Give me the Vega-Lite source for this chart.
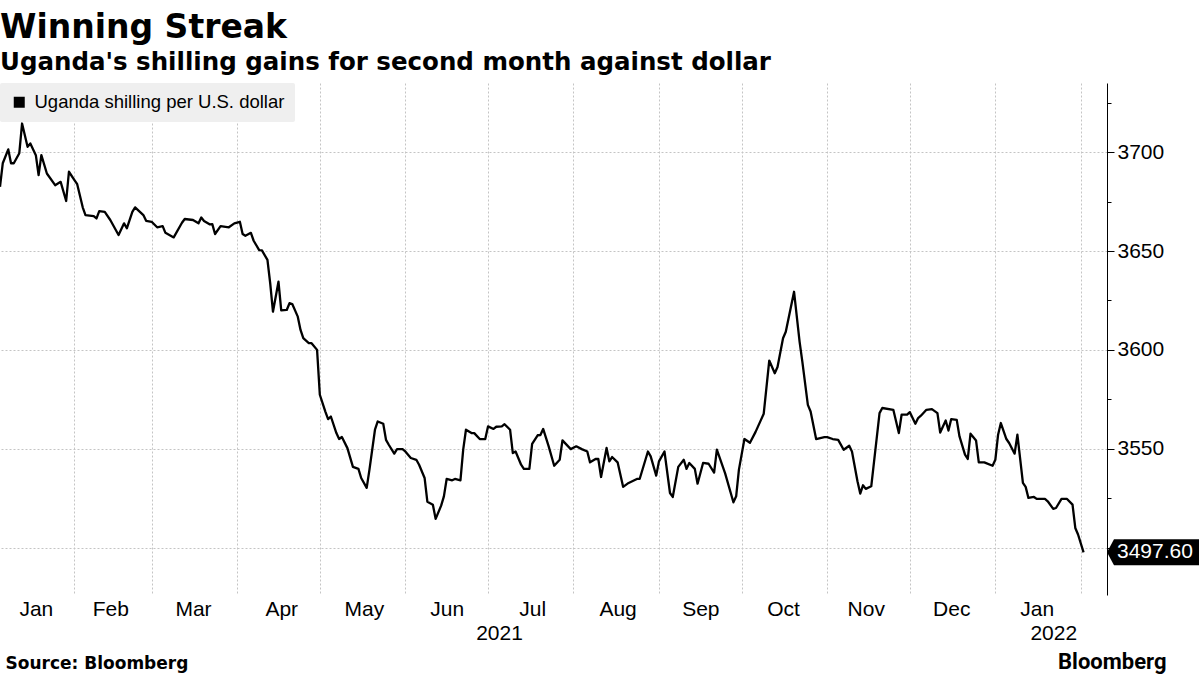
{
  "$schema": "https://vega.github.io/schema/vega-lite/v6.json",
  "width": 1107,
  "height": 512,
  "autosize": {"type": "none"},
  "padding": {"left": 0, "top": 83, "right": 93, "bottom": 80},
  "background": "#ffffff",
  "title": {
    "text": "Winning Streak",
    "subtitle": "Uganda's shilling gains for second month against dollar",
    "anchor": "start",
    "frame": "group",
    "font": "DejaVu Sans",
    "fontSize": 33,
    "fontWeight": "bold",
    "color": "#000000",
    "subtitleFont": "DejaVu Sans",
    "subtitleFontSize": 24.5,
    "subtitleFontWeight": "bold",
    "subtitleColor": "#000000",
    "subtitlePadding": 6,
    "offset": 9
  },
  "datasets": {
    "fx": [
      {"date": "2021-01-05", "value": 3682.5},
      {"date": "2021-01-06", "value": 3694.4},
      {"date": "2021-01-08", "value": 3701.4},
      {"date": "2021-01-09", "value": 3694.4},
      {"date": "2021-01-10", "value": 3694.4},
      {"date": "2021-01-12", "value": 3699.5},
      {"date": "2021-01-13", "value": 3714.5},
      {"date": "2021-01-15", "value": 3702.7},
      {"date": "2021-01-16", "value": 3704.4},
      {"date": "2021-01-18", "value": 3698.5},
      {"date": "2021-01-19", "value": 3688.4},
      {"date": "2021-01-20", "value": 3698.5},
      {"date": "2021-01-22", "value": 3689.2},
      {"date": "2021-01-25", "value": 3683.3},
      {"date": "2021-01-27", "value": 3685.0},
      {"date": "2021-01-29", "value": 3675.3},
      {"date": "2021-01-30", "value": 3690.1},
      {"date": "2021-02-01", "value": 3685.9},
      {"date": "2021-02-02", "value": 3683.8},
      {"date": "2021-02-04", "value": 3672.1},
      {"date": "2021-02-05", "value": 3668.2},
      {"date": "2021-02-08", "value": 3667.7},
      {"date": "2021-02-09", "value": 3666.5},
      {"date": "2021-02-10", "value": 3670.2},
      {"date": "2021-02-12", "value": 3669.8},
      {"date": "2021-02-14", "value": 3665.7},
      {"date": "2021-02-17", "value": 3658.1},
      {"date": "2021-02-19", "value": 3664.0},
      {"date": "2021-02-20", "value": 3661.5},
      {"date": "2021-02-22", "value": 3669.8},
      {"date": "2021-02-23", "value": 3672.1},
      {"date": "2021-02-26", "value": 3668.2},
      {"date": "2021-02-27", "value": 3665.3},
      {"date": "2021-03-01", "value": 3664.8},
      {"date": "2021-03-03", "value": 3662.0},
      {"date": "2021-03-05", "value": 3662.6},
      {"date": "2021-03-06", "value": 3659.2},
      {"date": "2021-03-09", "value": 3656.9},
      {"date": "2021-03-12", "value": 3664.3},
      {"date": "2021-03-13", "value": 3666.2},
      {"date": "2021-03-16", "value": 3665.7},
      {"date": "2021-03-18", "value": 3664.0},
      {"date": "2021-03-19", "value": 3667.0},
      {"date": "2021-03-20", "value": 3665.2},
      {"date": "2021-03-22", "value": 3663.5},
      {"date": "2021-03-23", "value": 3663.6},
      {"date": "2021-03-24", "value": 3658.6},
      {"date": "2021-03-26", "value": 3662.6},
      {"date": "2021-03-29", "value": 3662.0},
      {"date": "2021-03-31", "value": 3664.0},
      {"date": "2021-04-02", "value": 3664.8},
      {"date": "2021-04-03", "value": 3658.6},
      {"date": "2021-04-04", "value": 3657.7},
      {"date": "2021-04-06", "value": 3659.2},
      {"date": "2021-04-07", "value": 3655.2},
      {"date": "2021-04-09", "value": 3650.5},
      {"date": "2021-04-10", "value": 3650.3},
      {"date": "2021-04-12", "value": 3645.5},
      {"date": "2021-04-13", "value": 3633.7},
      {"date": "2021-04-14", "value": 3619.3},
      {"date": "2021-04-16", "value": 3634.5},
      {"date": "2021-04-17", "value": 3620.0},
      {"date": "2021-04-19", "value": 3620.2},
      {"date": "2021-04-20", "value": 3623.6},
      {"date": "2021-04-21", "value": 3623.2},
      {"date": "2021-04-23", "value": 3616.8},
      {"date": "2021-04-24", "value": 3610.1},
      {"date": "2021-04-25", "value": 3605.9},
      {"date": "2021-04-27", "value": 3603.4},
      {"date": "2021-04-28", "value": 3603.4},
      {"date": "2021-04-30", "value": 3600.0},
      {"date": "2021-05-01", "value": 3577.3},
      {"date": "2021-05-03", "value": 3568.8},
      {"date": "2021-05-04", "value": 3565.0},
      {"date": "2021-05-05", "value": 3566.3},
      {"date": "2021-05-07", "value": 3557.9},
      {"date": "2021-05-08", "value": 3554.9},
      {"date": "2021-05-09", "value": 3555.9},
      {"date": "2021-05-11", "value": 3550.3},
      {"date": "2021-05-13", "value": 3540.8},
      {"date": "2021-05-15", "value": 3539.8},
      {"date": "2021-05-16", "value": 3535.2},
      {"date": "2021-05-18", "value": 3530.2},
      {"date": "2021-05-19", "value": 3539.4},
      {"date": "2021-05-21", "value": 3559.6},
      {"date": "2021-05-22", "value": 3563.8},
      {"date": "2021-05-24", "value": 3562.6},
      {"date": "2021-05-25", "value": 3554.5},
      {"date": "2021-05-26", "value": 3552.0},
      {"date": "2021-05-28", "value": 3547.5},
      {"date": "2021-05-29", "value": 3549.8},
      {"date": "2021-05-31", "value": 3549.8},
      {"date": "2021-06-01", "value": 3548.6},
      {"date": "2021-06-03", "value": 3545.3},
      {"date": "2021-06-05", "value": 3544.4},
      {"date": "2021-06-06", "value": 3541.9},
      {"date": "2021-06-08", "value": 3535.2},
      {"date": "2021-06-09", "value": 3523.2},
      {"date": "2021-06-11", "value": 3521.7},
      {"date": "2021-06-12", "value": 3514.5},
      {"date": "2021-06-14", "value": 3521.2},
      {"date": "2021-06-15", "value": 3525.9},
      {"date": "2021-06-16", "value": 3534.7},
      {"date": "2021-06-18", "value": 3534.0},
      {"date": "2021-06-19", "value": 3534.7},
      {"date": "2021-06-21", "value": 3534.0},
      {"date": "2021-06-22", "value": 3549.5},
      {"date": "2021-06-23", "value": 3559.6},
      {"date": "2021-06-25", "value": 3557.9},
      {"date": "2021-06-26", "value": 3557.9},
      {"date": "2021-06-28", "value": 3554.9},
      {"date": "2021-06-30", "value": 3554.9},
      {"date": "2021-07-01", "value": 3561.3},
      {"date": "2021-07-03", "value": 3560.0},
      {"date": "2021-07-04", "value": 3561.1},
      {"date": "2021-07-06", "value": 3561.3},
      {"date": "2021-07-07", "value": 3562.4},
      {"date": "2021-07-09", "value": 3559.6},
      {"date": "2021-07-10", "value": 3547.8},
      {"date": "2021-07-11", "value": 3548.6},
      {"date": "2021-07-13", "value": 3541.9},
      {"date": "2021-07-14", "value": 3539.8},
      {"date": "2021-07-16", "value": 3539.8},
      {"date": "2021-07-17", "value": 3552.5},
      {"date": "2021-07-19", "value": 3556.8},
      {"date": "2021-07-20", "value": 3556.9},
      {"date": "2021-07-21", "value": 3560.0},
      {"date": "2021-07-23", "value": 3551.2},
      {"date": "2021-07-25", "value": 3541.4},
      {"date": "2021-07-27", "value": 3544.4},
      {"date": "2021-07-28", "value": 3554.2},
      {"date": "2021-07-31", "value": 3549.8},
      {"date": "2021-08-02", "value": 3551.2},
      {"date": "2021-08-04", "value": 3549.8},
      {"date": "2021-08-06", "value": 3548.6},
      {"date": "2021-08-07", "value": 3543.1},
      {"date": "2021-08-09", "value": 3544.8},
      {"date": "2021-08-10", "value": 3544.8},
      {"date": "2021-08-11", "value": 3535.7},
      {"date": "2021-08-13", "value": 3550.4},
      {"date": "2021-08-14", "value": 3543.6},
      {"date": "2021-08-15", "value": 3545.8},
      {"date": "2021-08-17", "value": 3543.1},
      {"date": "2021-08-19", "value": 3530.7},
      {"date": "2021-08-21", "value": 3532.7},
      {"date": "2021-08-24", "value": 3534.7},
      {"date": "2021-08-25", "value": 3534.7},
      {"date": "2021-08-28", "value": 3548.6},
      {"date": "2021-08-29", "value": 3546.1},
      {"date": "2021-08-31", "value": 3536.4},
      {"date": "2021-09-01", "value": 3543.6},
      {"date": "2021-09-03", "value": 3548.6},
      {"date": "2021-09-05", "value": 3527.6},
      {"date": "2021-09-06", "value": 3525.6},
      {"date": "2021-09-08", "value": 3540.8},
      {"date": "2021-09-10", "value": 3544.4},
      {"date": "2021-09-11", "value": 3539.8},
      {"date": "2021-09-12", "value": 3542.8},
      {"date": "2021-09-14", "value": 3539.8},
      {"date": "2021-09-15", "value": 3532.3},
      {"date": "2021-09-17", "value": 3542.8},
      {"date": "2021-09-19", "value": 3542.4},
      {"date": "2021-09-21", "value": 3537.9},
      {"date": "2021-09-22", "value": 3549.5},
      {"date": "2021-09-25", "value": 3537.5},
      {"date": "2021-09-28", "value": 3522.9},
      {"date": "2021-09-29", "value": 3525.9},
      {"date": "2021-09-30", "value": 3539.4},
      {"date": "2021-10-02", "value": 3554.9},
      {"date": "2021-10-04", "value": 3553.0},
      {"date": "2021-10-06", "value": 3558.4},
      {"date": "2021-10-08", "value": 3564.6},
      {"date": "2021-10-09", "value": 3567.7},
      {"date": "2021-10-11", "value": 3594.6},
      {"date": "2021-10-13", "value": 3588.2},
      {"date": "2021-10-14", "value": 3591.3},
      {"date": "2021-10-16", "value": 3605.9},
      {"date": "2021-10-17", "value": 3609.2},
      {"date": "2021-10-20", "value": 3629.4},
      {"date": "2021-10-22", "value": 3604.2},
      {"date": "2021-10-23", "value": 3594.1},
      {"date": "2021-10-25", "value": 3572.2},
      {"date": "2021-10-26", "value": 3568.8},
      {"date": "2021-10-28", "value": 3554.9},
      {"date": "2021-10-31", "value": 3555.9},
      {"date": "2021-11-01", "value": 3555.9},
      {"date": "2021-11-03", "value": 3554.9},
      {"date": "2021-11-05", "value": 3554.5},
      {"date": "2021-11-07", "value": 3549.5},
      {"date": "2021-11-09", "value": 3551.5},
      {"date": "2021-11-10", "value": 3548.6},
      {"date": "2021-11-12", "value": 3533.5},
      {"date": "2021-11-13", "value": 3527.3},
      {"date": "2021-11-14", "value": 3531.5},
      {"date": "2021-11-15", "value": 3529.7},
      {"date": "2021-11-17", "value": 3531.0},
      {"date": "2021-11-20", "value": 3568.0},
      {"date": "2021-11-21", "value": 3570.6},
      {"date": "2021-11-25", "value": 3569.7},
      {"date": "2021-11-27", "value": 3557.9},
      {"date": "2021-11-28", "value": 3567.2},
      {"date": "2021-11-30", "value": 3567.2},
      {"date": "2021-12-01", "value": 3568.5},
      {"date": "2021-12-03", "value": 3562.6},
      {"date": "2021-12-04", "value": 3565.5},
      {"date": "2021-12-05", "value": 3566.7},
      {"date": "2021-12-07", "value": 3569.7},
      {"date": "2021-12-09", "value": 3570.0},
      {"date": "2021-12-11", "value": 3568.0},
      {"date": "2021-12-12", "value": 3558.2},
      {"date": "2021-12-14", "value": 3564.3},
      {"date": "2021-12-15", "value": 3559.2},
      {"date": "2021-12-16", "value": 3565.0},
      {"date": "2021-12-18", "value": 3564.6},
      {"date": "2021-12-19", "value": 3556.2},
      {"date": "2021-12-21", "value": 3547.0},
      {"date": "2021-12-22", "value": 3544.8},
      {"date": "2021-12-23", "value": 3557.6},
      {"date": "2021-12-25", "value": 3554.2},
      {"date": "2021-12-26", "value": 3543.1},
      {"date": "2021-12-28", "value": 3543.1},
      {"date": "2021-12-31", "value": 3541.4},
      {"date": "2022-01-01", "value": 3544.4},
      {"date": "2022-01-02", "value": 3557.1},
      {"date": "2022-01-03", "value": 3563.0},
      {"date": "2022-01-05", "value": 3554.9},
      {"date": "2022-01-06", "value": 3552.9},
      {"date": "2022-01-08", "value": 3547.5},
      {"date": "2022-01-09", "value": 3557.1},
      {"date": "2022-01-11", "value": 3532.7},
      {"date": "2022-01-12", "value": 3530.7},
      {"date": "2022-01-13", "value": 3525.1},
      {"date": "2022-01-15", "value": 3525.6},
      {"date": "2022-01-16", "value": 3524.6},
      {"date": "2022-01-19", "value": 3524.6},
      {"date": "2022-01-20", "value": 3523.4},
      {"date": "2022-01-22", "value": 3519.6},
      {"date": "2022-01-23", "value": 3520.0},
      {"date": "2022-01-25", "value": 3524.6},
      {"date": "2022-01-27", "value": 3524.6},
      {"date": "2022-01-29", "value": 3521.7},
      {"date": "2022-01-30", "value": 3509.9},
      {"date": "2022-01-31", "value": 3506.6},
      {"date": "2022-02-02", "value": 3497.6}
    ],
    "last": [{"value": 3497.6, "label": "3497.60"}]
  },
  "encoding": {
    "y": {
      "field": "value",
      "type": "quantitative",
      "scale": {"domain": [3476, 3735], "nice": false, "zero": false},
      "axis": {
        "orient": "right",
        "title": null,
        "values": [3500, 3525, 3550, 3575, 3600, 3625, 3650, 3675, 3700, 3725],
        "format": "d",
        "labelExpr": "datum.value % 50 === 0 && datum.value !== 3500 ? datum.label : ''",
        "domain": true,
        "domainColor": "#000000",
        "domainWidth": 1,
        "ticks": true,
        "tickColor": "#000000",
        "tickWidth": 1,
        "tickSize": {"condition": {"test": "datum.value % 50 === 0", "value": 7}, "value": 4},
        "grid": true,
        "gridColor": "#c4c4c4",
        "gridDash": [2, 2],
        "gridWidth": 1,
        "gridOpacity": {"condition": {"test": "datum.value % 50 === 0", "value": 1}, "value": 0},
        "labelFont": "Liberation Sans",
        "labelFontSize": 21,
        "labelColor": "#000000",
        "labelPadding": 3,
        "labelBaseline": "middle"
      }
    }
  },
  "layer": [
    {
      "data": {"name": "fx"},
      "mark": {"type": "line", "strokeWidth": 2.3, "strokeJoin": "round"},
      "encoding": {
        "x": {
          "field": "date",
          "type": "temporal",
          "scale": {
            "type": "utc",
            "domain": [
              {"year": 2021, "month": 1, "date": 5, "utc": true},
              {"year": 2022, "month": 2, "date": 10, "hours": 12, "utc": true}
            ]
          },
          "axis": {
            "orient": "bottom",
            "title": null,
            "values": [
              {"year": 2021, "month": 2, "date": 1, "utc": true},
              {"year": 2021, "month": 3, "date": 1, "utc": true},
              {"year": 2021, "month": 4, "date": 1, "utc": true},
              {"year": 2021, "month": 5, "date": 1, "utc": true},
              {"year": 2021, "month": 6, "date": 1, "utc": true},
              {"year": 2021, "month": 7, "date": 1, "utc": true},
              {"year": 2021, "month": 8, "date": 1, "utc": true},
              {"year": 2021, "month": 9, "date": 1, "utc": true},
              {"year": 2021, "month": 10, "date": 1, "utc": true},
              {"year": 2021, "month": 11, "date": 1, "utc": true},
              {"year": 2021, "month": 12, "date": 1, "utc": true},
              {"year": 2022, "month": 1, "date": 1, "utc": true},
              {"year": 2022, "month": 2, "date": 1, "utc": true}
            ],
            "labels": false,
            "ticks": false,
            "domain": false,
            "grid": true,
            "gridColor": "#c4c4c4",
            "gridDash": [2, 2],
            "gridWidth": 1
          }
        },
        "color": {
          "datum": "Uganda shilling per U.S. dollar",
          "type": "nominal",
          "scale": {"range": ["#000000"]},
          "legend": {
            "orient": "top-left",
            "title": null,
            "offset": 0,
            "padding": 10,
            "fillColor": "#efefef",
            "cornerRadius": 2,
            "labelFont": "Liberation Sans",
            "labelFontSize": 18.5,
            "labelLimit": 500,
            "labelColor": "#000000",
            "labelOffset": 6,
            "symbolType": "square",
            "symbolSize": 121,
            "symbolFillColor": "#000000",
            "symbolStrokeColor": "#000000",
            "symbolStrokeWidth": 0
          }
        }
      }
    },
    {
      "data": {"name": "fx"},
      "mark": {"type": "line", "opacity": 0},
      "encoding": {
        "x": {
          "field": "date",
          "type": "temporal",
          "axis": {
            "orient": "bottom",
            "values": [
              {"year": 2021, "month": 1, "date": 18, "utc": true},
              {"year": 2021, "month": 2, "date": 14, "utc": true},
              {"year": 2021, "month": 3, "date": 16, "utc": true},
              {"year": 2021, "month": 4, "date": 17, "utc": true},
              {"year": 2021, "month": 5, "date": 17, "utc": true},
              {"year": 2021, "month": 6, "date": 16, "utc": true},
              {"year": 2021, "month": 7, "date": 17, "utc": true},
              {"year": 2021, "month": 8, "date": 17, "utc": true},
              {"year": 2021, "month": 9, "date": 16, "utc": true},
              {"year": 2021, "month": 10, "date": 16, "utc": true},
              {"year": 2021, "month": 11, "date": 15, "utc": true},
              {"year": 2021, "month": 12, "date": 16, "utc": true},
              {"year": 2022, "month": 1, "date": 16, "utc": true}
            ],
            "format": "%b",
            "grid": false,
            "ticks": false,
            "domain": false,
            "labelFlush": false,
            "labelOverlap": false,
            "labelFont": "Liberation Sans",
            "labelFontSize": 21,
            "labelColor": "#000000",
            "labelPadding": 3,
            "title": "Bloomberg",
            "titleX": 1166,
            "titleY": 73,
            "titleAlign": "right",
            "titleBaseline": "alphabetic",
            "titleFont": "Roboto",
            "titleFontSize": 22,
            "titleFontWeight": "bold",
            "titleColor": "#000000"
          }
        }
      }
    },
    {
      "data": {"name": "fx"},
      "mark": {"type": "line", "opacity": 0},
      "encoding": {
        "x": {
          "field": "date",
          "type": "temporal",
          "axis": {
            "orient": "bottom",
            "values": [
              {"year": 2021, "month": 7, "date": 5, "utc": true},
              {"year": 2022, "month": 1, "date": 22, "utc": true}
            ],
            "format": "%Y",
            "grid": false,
            "ticks": false,
            "domain": false,
            "labelFlush": false,
            "labelOverlap": false,
            "labelFont": "Liberation Sans",
            "labelFontSize": 21,
            "labelColor": "#000000",
            "labelPadding": 27,
            "title": "Source: Bloomberg",
            "titleX": 5,
            "titleY": 73,
            "titleAlign": "left",
            "titleBaseline": "alphabetic",
            "titleFont": "DejaVu Sans",
            "titleFontSize": 17,
            "titleFontWeight": "bold",
            "titleColor": "#000000"
          }
        }
      }
    },
    {
      "data": {"name": "last"},
      "mark": {
        "type": "point",
        "shape": "M0,0L0.076,-0.141L1,-0.141L1,0.141L0.076,0.141Z",
        "filled": true,
        "color": "#000000",
        "opacity": 1,
        "size": 33856,
        "strokeWidth": 0
      },
      "encoding": {"x": {"value": "width"}}
    },
    {
      "data": {"name": "last"},
      "mark": {
        "type": "text",
        "align": "left",
        "baseline": "middle",
        "dx": 10,
        "color": "#ffffff",
        "font": "Liberation Sans",
        "fontSize": 21
      },
      "encoding": {"x": {"value": "width"}, "text": {"field": "label"}}
    }
  ],
  "resolve": {"axis": {"x": "independent"}},
  "config": {
    "view": {"stroke": null},
    "axis": {"labelFont": "Liberation Sans", "labelColor": "#000000"}
  }
}
